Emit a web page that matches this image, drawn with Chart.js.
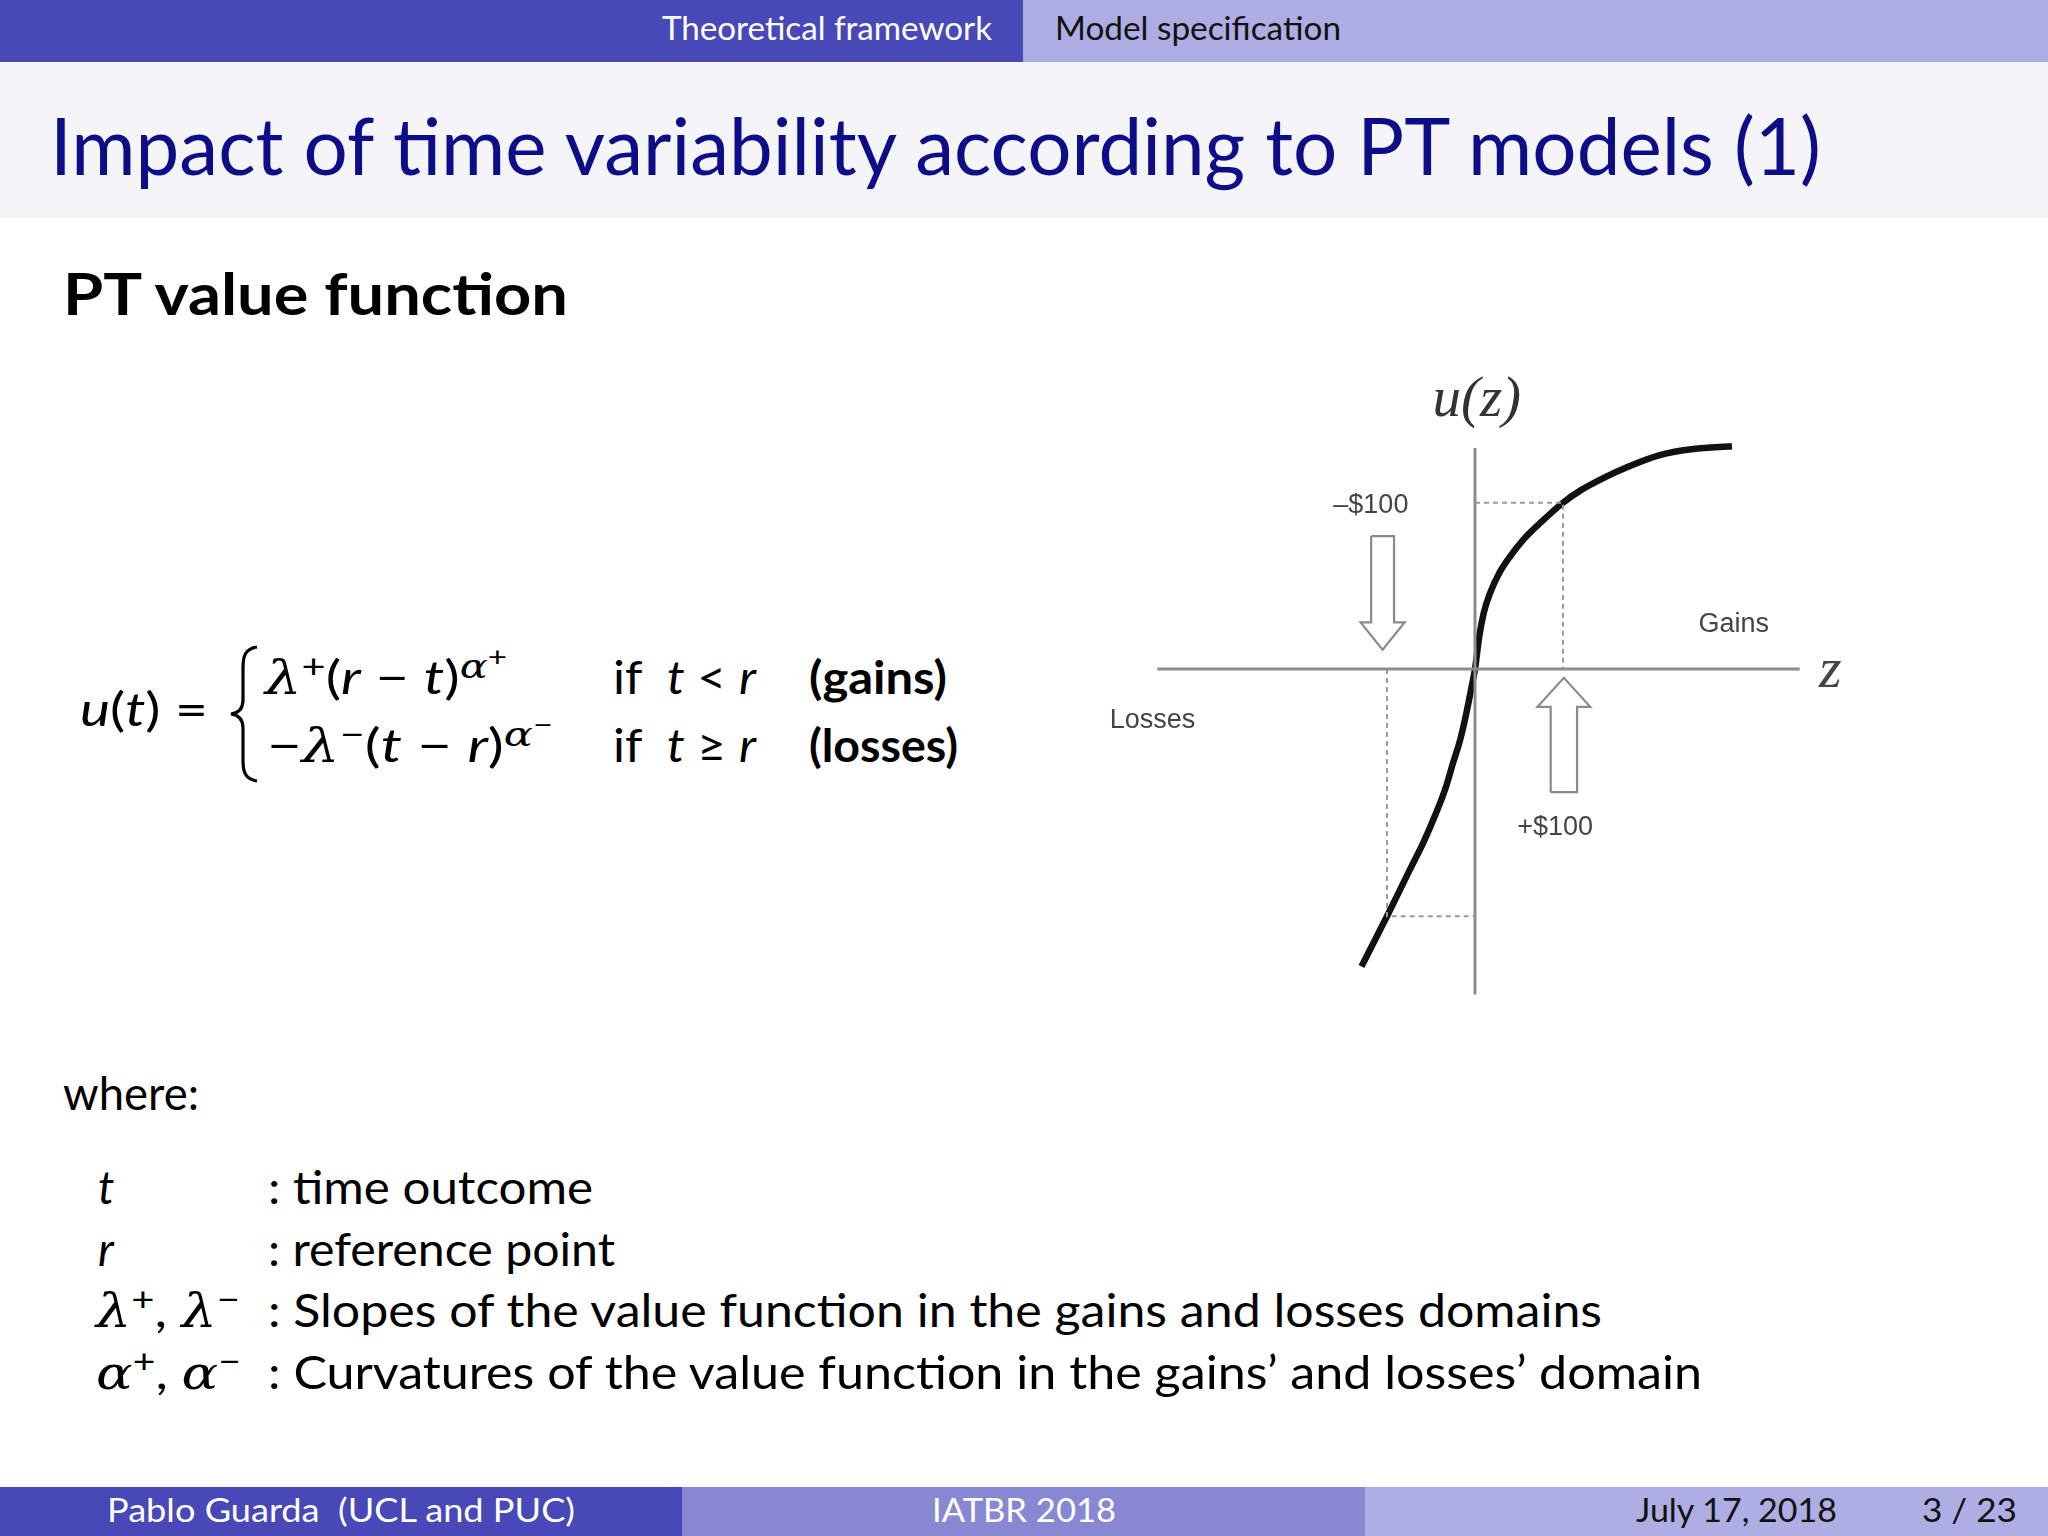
<!DOCTYPE html>
<html>
<head>
<meta charset="utf-8">
<script src="https://cdn.jsdelivr.net/npm/chart.js@4.4.1/dist/chart.umd.min.js"></script>
<style>
  html, body { margin:0; padding:0; background:#fff; }
  #stage { position:relative; width:2048px; height:1536px; overflow:hidden; background:#fff; }
  .band { position:absolute; }
  .t { position:absolute; white-space:nowrap; line-height:1.2; transform-origin:0 0; }
  .bl { display:inline-block; width:0; height:0; vertical-align:baseline; }
  .sup { position:relative; top:-0.48em; font-size:0.72em; }
  .sup2 { position:relative; top:-0.45em; font-size:0.8em; }
  .mi { font-style:italic; }
  .gr { font-family:"DejaVu Serif", serif; font-style:italic; }
  #chartWrap { position:absolute; left:1080px; top:360px; width:800px; height:660px; }
</style>
</head>
<body>
<div id="stage">
  <div class="band" style="left:0;top:0;width:1023px;height:62px;background:#4848b8"></div>
  <div class="band" style="left:1023px;top:0;width:1025px;height:62px;background:#adade3"></div>
  <div class="band" style="left:0;top:62px;width:2048px;height:156px;background:#f5f5f7"></div>
  <div class="band" style="left:0;top:1487px;width:682px;height:49px;background:#4848b8"></div>
  <div class="band" style="left:682px;top:1487px;width:683px;height:49px;background:#8888d2"></div>
  <div class="band" style="left:1365px;top:1487px;width:683px;height:49px;background:#aeaee4"></div>
  <svg style="position:absolute;left:0;top:0" width="2048" height="1536">
    <path d="M257,647 C245,649 243,656 243,668 L243,700 C243,708 239,713 231,714 C239,715 243,720 243,728 L243,760 C243,772 245,779 257,781" fill="none" stroke="#000" stroke-width="3.2"/>
  </svg>
  <div id="chartWrap"><canvas id="chart" width="800" height="660"></canvas></div>
</div>
<script>
// ---------------- data ----------------
// value function u(z) (z in dollars, u in the same scale units)
const zValues = [-129, -100, -74, -59, -46, -34, -25, -17, -10, -4, 0, 5, 10, 17, 27, 40, 55, 72, 100, 120, 148, 172, 210, 248, 292];
const uValues = [-338, -281, -228, -198, -168, -137, -107, -81, -51, -21, 0, 38, 64, 86, 108, 128, 147, 164, 189, 203, 218, 229, 243, 250, 253];
// extents of the drawn axes
const zAxisExtent = [-361, 369];
const uAxisExtent = [-370, 251];
// reference outcomes marked with dashed guides
const refOutcomes = [-100, 100];
// arrows: centre z, tail u, tip u
const arrowZ = [-105, 101];
const arrowTail = [151, -140];
const arrowTip = [22, -10];
// labels
const axisLabels = ['u(z)', 'z'];
const regionLabels = ['Losses', 'Gains'];
const outcomeLabels = ['\u2013$100', '+$100'];

// ---------------- chart ----------------
const pts = zValues.map((z, i) => ({ x: z, y: uValues[i] }));
const uAt = z => uValues[zValues.indexOf(z)];
const arrowStyle = { shaftHalf: [13, 15], headHalf: [25, 30], headLen: [31, 33] };
function arrowShape(i) {
  const c = arrowZ[i], tail = arrowTail[i], tip = arrowTip[i];
  const dir = Math.sign(tip - tail);
  const hs = tip - dir * arrowStyle.headLen[i];
  const s = arrowStyle.shaftHalf[i], h = arrowStyle.headHalf[i];
  return [
    { x: c - s, y: tail }, { x: c + s, y: tail }, { x: c + s, y: hs }, { x: c + h, y: hs },
    { x: c, y: tip }, { x: c - h, y: hs }, { x: c - s, y: hs }, { x: c - s, y: tail }
  ];
}
const guideLeft = [{ x: refOutcomes[0], y: 0 }, { x: refOutcomes[0], y: uAt(refOutcomes[0]) }, { x: 0, y: uAt(refOutcomes[0]) }];
const guideRight = [{ x: 0, y: uAt(refOutcomes[1]) }, { x: refOutcomes[1], y: uAt(refOutcomes[1]) }, { x: refOutcomes[1], y: 0 }];

const lineDs = (data, color, width, extra) => Object.assign({
  data, showLine: true, borderColor: color, borderWidth: width, pointRadius: 0, fill: false, tension: 0
}, extra || {});

const labelPlugin = {
  id: 'labels',
  afterDatasetsDraw(chart) {
    const { ctx, scales: { x, y } } = chart;
    const items = [
      { text: axisLabels[0], z: 2, u: 287, font: 'italic 57px "Liberation Serif"', align: 'center', color: '#333' },
      { text: axisLabels[1], z: 391, u: -20, font: 'italic 58px "Liberation Serif"', align: 'left', color: '#444' },
      { text: regionLabels[0], z: -415, u: -67, font: '27px "Liberation Sans"', align: 'left', color: '#444' },
      { text: regionLabels[1], z: 254, u: 42, font: '27px "Liberation Sans"', align: 'left', color: '#444' },
      { text: outcomeLabels[0], z: -161, u: 177, font: '27px "Liberation Sans"', align: 'left', color: '#444' },
      { text: outcomeLabels[1], z: 48, u: -189, font: '27px "Liberation Sans"', align: 'left', color: '#444' }
    ];
    ctx.save();
    items.forEach(it => {
      ctx.font = it.font;
      ctx.fillStyle = it.color;
      ctx.textAlign = it.align;
      ctx.textBaseline = 'alphabetic';
      ctx.fillText(it.text, x.getPixelForValue(it.z), y.getPixelForValue(it.u));
    });
    ctx.restore();
  }
};

function buildChart() {
  new Chart(document.getElementById('chart'), {
    type: 'scatter',
    data: {
      datasets: [
        lineDs([{ x: zAxisExtent[0], y: 0 }, { x: zAxisExtent[1], y: 0 }], '#8c8c8c', 3),
        lineDs([{ x: 0, y: uAxisExtent[1] }, { x: 0, y: uAxisExtent[0] }], '#8c8c8c', 3),
        lineDs(guideLeft, '#9a9a9a', 2, { borderDash: [5, 4] }),
        lineDs(guideRight, '#9a9a9a', 2, { borderDash: [5, 4] }),
        lineDs(arrowShape(0), '#8a8a8a', 2.2),
        lineDs(arrowShape(1), '#8a8a8a', 2.2),
        lineDs(pts, '#111111', 6.5, { cubicInterpolationMode: 'monotone', borderCapStyle: 'butt' })
      ]
    },
    options: {
      responsive: false,
      animation: false,
      devicePixelRatio: 1,
      layout: { padding: 0 },
      plugins: { legend: { display: false }, tooltip: { enabled: false } },
      scales: {
        x: { type: 'linear', min: -448.86, max: 460.23, display: false },
        y: { type: 'linear', min: -398.86, max: 351.14, display: false }
      }
    },
    plugins: [labelPlugin]
  });
}

// ---------------- slide text ----------------
const stage = document.getElementById('stage');
function place(html, o) {
  const d = document.createElement('div');
  d.className = 't';
  d.style.fontFamily = o.family || 'Lato, "Open Sans", sans-serif';
  d.style.fontSize = o.size + 'px';
  d.style.fontWeight = o.weight || 'normal';
  d.style.color = o.color || '#000';
  d.innerHTML = html + '<span class="bl"></span>';
  d.style.left = o.x + 'px';
  d.style.top = '0px';
  stage.appendChild(d);
  const off = d.querySelector('.bl').offsetTop;
  d.style.top = (o.base - off) + 'px';
  if (o.w) {
    const w = d.getBoundingClientRect().width;
    if (w > 0) d.style.transform = 'scaleX(' + (o.w / w) + ')';
  }
}
const L = t => '<span class="gr">' + t + '</span>';
const M = t => '<span class="mi">' + t + '</span>';
const sup = t => '<span class="sup">' + t + '</span>';

function buildText() {
  place('Theoretical framework', { x: 662, base: 40, size: 33, color: '#fff', w: 330 });
  place('Model specification', { x: 1055, base: 40, size: 33, color: '#111', w: 286 });
  place('Impact of time variability according to PT models (1)', { x: 50, base: 175, size: 80, color: '#0d0d8a', w: 1771 });
  place('PT value function', { x: 63, base: 315, size: 58, weight: 'bold', color: '#000', w: 505 });

  place(M('u') + '(' + M('t') + ') =', { x: 80, base: 726, size: 46, w: 128 });
  place(L('λ') + sup('+') + '(' + M('r') + ' − ' + M('t') + ')' + sup(L('α') + '<span class="sup2">+</span>'), { x: 265, base: 694, size: 46, w: 242 });
  place('−' + L('λ') + sup('−') + '(' + M('t') + ' − ' + M('r') + ')' + sup(L('α') + '<span class="sup2">−</span>'), { x: 267, base: 762, size: 46, w: 286 });
  place('if&nbsp; ' + M('t') + ' &lt; ' + M('r'), { x: 613, base: 694, size: 46, w: 143 });
  place('if&nbsp; ' + M('t') + ' ≥ ' + M('r'), { x: 613, base: 762, size: 46, w: 143 });
  place('(gains)', { x: 809, base: 694, size: 46, weight: 'bold', w: 138 });
  place('(losses)', { x: 809, base: 762, size: 46, weight: 'bold', w: 149 });

  place('where:', { x: 63, base: 1110, size: 46, w: 136 });
  place(M('t'), { x: 98, base: 1204, size: 46 });
  place(M('r'), { x: 98, base: 1266, size: 46 });
  place(L('λ') + sup('+') + ', ' + L('λ') + sup('−'), { x: 96, base: 1327, size: 46, w: 144 });
  place(L('α') + sup('+') + ', ' + L('α') + sup('−'), { x: 96, base: 1389, size: 46, w: 145 });
  place(': time outcome', { x: 268, base: 1204, size: 46, w: 325 });
  place(': reference point', { x: 268, base: 1266, size: 46, w: 347 });
  place(': Slopes of the value function in the gains and losses domains', { x: 268, base: 1327, size: 46, w: 1334 });
  place(': Curvatures of the value function in the gains’ and losses’ domain', { x: 268, base: 1389, size: 46, w: 1434 });

  place('Pablo Guarda&nbsp; (UCL and PUC)', { x: 107, base: 1522, size: 33, color: '#fff', w: 468 });
  place('IATBR 2018', { x: 932, base: 1522, size: 33, color: '#fff', w: 184 });
  place('July 17, 2018', { x: 1636, base: 1522, size: 33, color: '#111', w: 201 });
  place('3 / 23', { x: 1922, base: 1522, size: 33, color: '#111', w: 95 });
}

const go = () => { buildText(); buildChart(); };
if (document.fonts && document.fonts.ready) document.fonts.ready.then(go); else go();
</script>
</body>
</html>
